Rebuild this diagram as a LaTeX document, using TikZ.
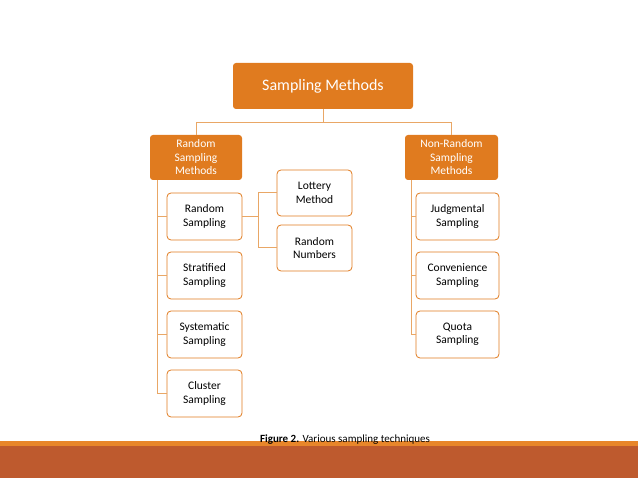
\documentclass[tikz,border=0pt]{standalone}
\usepackage{fontspec}
\setmainfont{Carlito}
\usetikzlibrary{positioning}
\definecolor{boxorange}{HTML}{E07B1F}
\definecolor{lineorange}{HTML}{E9A766}
\definecolor{barlight}{HTML}{E8862A}
\definecolor{bardark}{HTML}{BE5A2E}
\newcommand{\boxfont}{\fontsize{11.5}{13.5}\selectfont}
\begin{document}
\begin{tikzpicture}[x=1pt,y=-1pt,thick,
  head node/.style={rectangle,rounded corners=3pt,fill=boxorange,text=white,align=center},
  leaf node/.style={rectangle,rounded corners=4pt,draw=boxorange,fill=white,align=center,font=\boxfont,minimum height=47pt},
  link/.style={draw=lineorange,line width=1pt}]
  \useasboundingbox (0,0) rectangle (638,478);
  % bottom bar
  \fill[bardark] (0,446) rectangle (638,478);
  \fill[barlight] (0,441) rectangle (638,446);

  \node[head node,minimum width=180pt,minimum height=46pt,font=\fontsize{16}{19}\selectfont] (methods) at (323,86) {Sampling Methods};
  \node[head node,minimum width=92pt,minimum height=45pt,font=\boxfont] (random) at (196,157.5) {Random\\Sampling\\Methods};
  \node[head node,minimum width=93pt,minimum height=45pt,font=\boxfont] (nonrandom) at (451.5,157.5) {Non-Random\\Sampling\\Methods};

  \node[leaf node,minimum width=75pt] (simple) at (204.5,216.5) {Random\\Sampling};
  \node[leaf node,minimum width=75pt] (stratified) at (204.5,275.5) {Stratified\\Sampling};
  \node[leaf node,minimum width=75pt] (systematic) at (204.5,334.5) {Systematic\\Sampling};
  \node[leaf node,minimum width=75pt] (cluster) at (204.5,393.5) {Cluster\\Sampling};

  \node[leaf node,minimum width=75pt,minimum height=46pt] (lottery) at (314.5,193) {Lottery\\Method};
  \node[leaf node,minimum width=75pt,minimum height=46pt] (numbers) at (314.5,248) {Random\\Numbers};

  \node[leaf node,minimum width=83pt] (judgmental) at (457.5,216.5) {Judgmental\\Sampling};
  \node[leaf node,minimum width=83pt] (convenience) at (457.5,275.5) {Convenience\\Sampling};
  \node[leaf node,minimum width=83pt] (quota) at (457.5,334.5) {Quota\\Sampling};

  \node[font=\fontsize{11}{13}\selectfont] (caption) at (345,440) {\textbf{Figure 2.} Various sampling techniques};

  \draw[link] (methods.south) -- ++(0,13) -| (random.north);
  \draw[link] (methods.south) -- ++(0,13) -| (nonrandom.north);
  \draw[link] (random.south west) ++(8,0) |- (cluster.west);
  \foreach \n in {simple,stratified,systematic}
    \draw[link] (\n.west) -- ++(-9,0);
  \draw[link] (nonrandom.south west) ++(7,0) |- (quota.west);
  \foreach \n in {judgmental,convenience}
    \draw[link] (\n.west) -- ++(-4,0);
  \draw[link] (simple.east) -- ++(16,0) coordinate (fork);
  \draw[link] (fork) |- (lottery.west);
  \draw[link] (fork) |- (numbers.west);
\end{tikzpicture}
\end{document}
